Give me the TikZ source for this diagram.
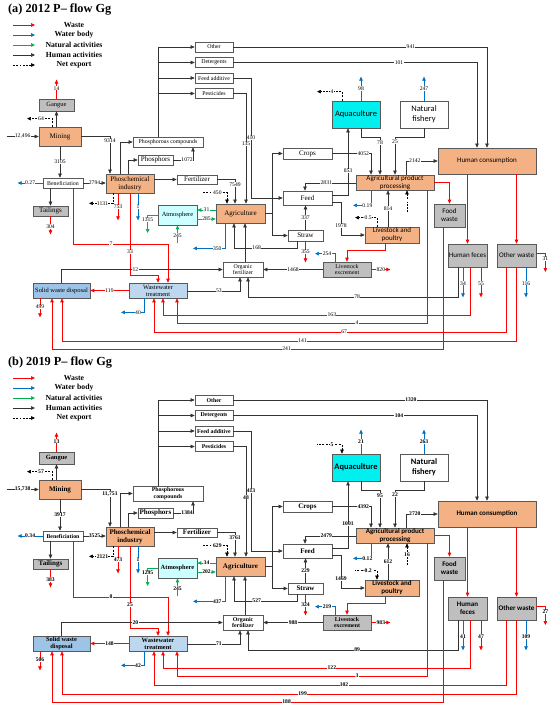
\documentclass[tikz,border=0pt]{standalone}
\usepackage{fontspec}
\setmainfont{Liberation Serif}
\newfontfamily\calfont{Carlito}
\usetikzlibrary{arrows.meta}

\definecolor{boxorange}{HTML}{F4B183}
\definecolor{boxgray}{HTML}{BFBFBF}
\definecolor{boxcyan}{HTML}{00F0F0}
\definecolor{boxatmo}{HTML}{CCFFFF}
\definecolor{boxww}{HTML}{BDD7EE}
\definecolor{boxsolid}{HTML}{9DC3E6}
\definecolor{boxline}{HTML}{595959}
\definecolor{wastered}{HTML}{FF0000}
\definecolor{waterblue}{HTML}{0070C0}
\definecolor{natgreen}{HTML}{00B050}

\tikzset{
  >={Triangle[length=3.4pt,width=3pt]},
  box/.style={draw=boxline, line width=0.6pt, inner sep=0.3pt, align=center,
    font=\fontsize{5.5}{6}\selectfont\panelfont},
  obox/.style={box, fill=boxorange},
  gbox/.style={box, fill=boxgray},
  wbox/.style={box, fill=white},
  sz/.style 2 args={minimum width=#1*0.03cm, minimum height=#2*0.03cm},
  sf5/.style={font=\fontsize{5}{5.6}\selectfont\panelfont},
  sf6/.style={font=\fontsize{6}{6.6}\selectfont\panelfont},
  cf6/.style={font=\calfont\fontsize{6}{6.8}\selectfont\panelfont},
  cf7/.style={font=\calfont\fontsize{7.2}{8.2}\selectfont\panelfont},
  num/.style={font=\fontsize{4.8}{5}\selectfont\panelfont, fill=white, inner sep=0.3pt},
  legend/.style={font=\bfseries\fontsize{6.6}{7.4}\selectfont},
  hum/.style={->, line width=0.55pt, draw=black!80},
  wst/.style={->, line width=0.6pt, draw=wastered},
  wat/.style={->, line width=0.6pt, draw=waterblue},
  nat/.style={->, line width=0.6pt, draw=natgreen},
  netex/.style={line width=0.55pt, draw=black, dash pattern=on 1.6pt off 1.2pt},
}

\newcommand{\valsA}{%
\def\panelfont{}%
\def\tTitle{(a) 2012 P-- flow Gg}%
\def\tPhc{Phosphorous compounds}\def\yPhc{142}\def\hPhc{10}%
\def\tSolid{Solid waste disposal}%
\def\tFeces{Human feces}%
\tikzset{aquaway/.style={->}, liveway/.style={->}}%
\def\vGan{14}\def\vMinEx{64}\def\vMinIn{12,496}\def\vMinPhos{9314}\def\vMinBen{3105}%
\def\vBenW{0.27}\def\vBenPhos{2794}\def\vTail{304}\def\vBenWw{7}\def\vPhosWw{33}%
\def\vPhosEx{1131}\def\vPhosR{753}\def\vPhosB{1}\def\vPhor{1072}%
\def\vOthHc{941}\def\vDetHc{101}\def\vAddFeed{410}\def\vPestAg{135}%
\def\vFert{7549}\def\vAgEx{450}\def\vAgAtm{31}\def\vAtmAg{285}\def\vAtmG{1315}\def\vAtmIn{245}%
\def\vAgB{350}\def\vStrAg{168}\def\vStrFeed{337}\def\vStrR{355}%
\def\vCrops{4052}\def\vFeedAq{853}\def\vProcFeed{2831}\def\vFeedLive{1978}%
\def\vAqProc{78}\def\vFishProc{25}\def\vProcHc{2142}\def\vAqB{98}\def\vAqEx{4}\def\vFishB{247}%
\def\vProcB{0.19}\def\vLiveProc{814}\def\vProcEx{}\def\vLiveEx{-0.5}%
\def\vExcOrg{1468}\def\vExcB{254}\def\vExcR{820}%
\def\vOwR{31}\def\vFecB{34}\def\vFecR{55}\def\vOwB{116}%
\def\vFecOrg{78}\def\vFecWw{163}\def\vProcWw{4}\def\vOwWw{67}\def\vOwSol{141}\def\vFoodSol{241}%
\def\vWwSol{119}\def\vWwOrg{53}\def\vSolOrg{12}\def\vSolR{499}\def\vWwB{40}%
}

\newcommand{\valsB}{%
\def\panelfont{\bfseries}%
\def\tTitle{(b) 2019 P-- flow Gg}%
\def\tPhc{Phosphorous\\compounds}\def\yPhc{140.5}\def\hPhc{15}%
\def\tSolid{Solid waste\\disposal}%
\def\tFeces{Human\\feces}%
\tikzset{aquaway/.style={<-}, liveway/.style={<-}}%
\def\vGan{13}\def\vMinEx{57}\def\vMinIn{15,738}\def\vMinPhos{11,751}\def\vMinBen{3917}%
\def\vBenW{0.34}\def\vBenPhos{3525}\def\vTail{383}\def\vBenWw{8}\def\vPhosWw{25}%
\def\vPhosEx{2121}\def\vPhosR{473}\def\vPhosB{1}\def\vPhor{1384}%
\def\vOthHc{1320}\def\vDetHc{104}\def\vAddFeed{413}\def\vPestAg{48}%
\def\vFert{3761}\def\vAgEx{629}\def\vAgAtm{34}\def\vAtmAg{202}\def\vAtmG{1295}\def\vAtmIn{245}%
\def\vAgB{437}\def\vStrAg{527}\def\vStrFeed{229}\def\vStrR{324}%
\def\vCrops{4392}\def\vFeedAq{1001}\def\vProcFeed{2479}\def\vFeedLive{1469}%
\def\vAqProc{95}\def\vFishProc{22}\def\vProcHc{2720}\def\vAqB{21}\def\vAqEx{5}\def\vFishB{263}%
\def\vProcB{0.12}\def\vLiveProc{612}\def\vProcEx{16}\def\vLiveEx{-0.2}%
\def\vExcOrg{988}\def\vExcB{219}\def\vExcR{983}%
\def\vOwR{27}\def\vFecB{41}\def\vFecR{47}\def\vOwB{109}%
\def\vFecOrg{89}\def\vFecWw{122}\def\vProcWw{3}\def\vOwWw{102}\def\vOwSol{199}\def\vFoodSol{188}%
\def\vWwSol{148}\def\vWwOrg{71}\def\vSolOrg{20}\def\vSolR{506}\def\vWwB{42}%
}

\newcommand{\flowpanel}{%
% title and legend
\node[anchor=west, font=\bfseries\fontsize{10.5}{12}\selectfont] (title) at (4,10) {\tTitle};
\draw[wst] (13,25) -- (35,25);
\draw[wat] (13,35) -- (35,35);
\draw[nat] (13,45) -- (35,45);
\draw[hum] (13,55) -- (35,55);
\draw[netex,->] (13,65) -- (35,65);
\node[legend] (lwaste) at (74,25) {Waste};
\node[legend] (lwater) at (74,35) {Water body};
\node[legend] (lnat) at (74,45) {Natural activities};
\node[legend] (lhum) at (74,55) {Human activities};
\node[legend] (lnet) at (74,65) {Net export};
% boxes
\node[gbox, sz={35}{12}] (gangue) at (56.5,105) {Gangue};
\node[obox, sf6, sz={42}{19}] (mining) at (60,136.5) {Mining};
\node[wbox, sf5, sz={40}{10}] (benef) at (63,183) {Beneficiation};
\node[gbox, sf6, sz={35}{10}] (tail) at (50.5,211) {Tailings};
\node[obox, sf6, sz={48}{19}] (phos) at (130,183.5) {Phoschemical\\industry};
\node[wbox, sf5, sz={70}{\hPhc}] (phc) at (168,\yPhc) {\tPhc};
\node[wbox, sf6, sz={35}{10}] (phor) at (155.5,160) {Phosphors};
\node[wbox, sf6, sz={40}{9}] (fert) at (197,179.5) {Fertilizer};
\node[wbox, sf5, sz={38}{10}] (other) at (214,47) {Other};
\node[wbox, sf5, sz={38}{10}] (deter) at (214,62.5) {Detergents};
\node[wbox, sf5, sz={38}{10}] (feedadd) at (214,78) {Feed additive};
\node[wbox, sf5, sz={38}{10}] (pest) at (214,93.5) {Pesticides};
\node[box, fill=boxatmo, sz={39}{20}] (atmo) at (177.5,215) {Atmosphere};
\node[obox, sf6, sz={49}{19}] (agri) at (240.5,213.5) {Agriculture};
\node[wbox, sf5, sz={40}{15}] (orgf) at (243,269.5) {Organic\\fertilizer};
\node[wbox, sf6, sz={49}{11}] (crops) at (307.5,153.5) {Crops};
\node[wbox, sf6, sz={49}{14}] (feed) at (307.5,198) {Feed};
\node[wbox, sf6, sz={35}{11}] (straw) at (305.5,235.5) {Straw};
\node[gbox, sf5, sz={48}{15}] (exc) at (347,269.5) {Livestock\\excrement};
\node[box, fill=boxcyan, cf7, sz={48}{27}] (aqua) at (356,114.5) {Aquaculture};
\node[wbox, cf7, sz={48}{27}] (fish) at (424,114.5) {Natural\\fishery};
\node[obox, cf6, sz={78}{15}] (proc) at (395,182.5) {Agricultural product\\processing};
\node[obox, cf6, sz={54}{16}] (live) at (392,235) {Livestock and\\poultry};
\node[obox, cf6, sz={98}{26}] (hc) at (487,161) {Human consumption};
\node[gbox, cf6, sz={31}{23}] (food) at (449.5,215.5) {Food\\waste};
\node[gbox, cf6, sz={39}{23}] (feces) at (467.5,255.5) {\tFeces};
\node[gbox, cf6, sz={39}{23}] (owaste) at (516.5,255.5) {Other waste};
\node[box, fill=boxww, sz={58}{15}] (ww) at (158,290.5) {Wastewater\\treatment};
\node[box, fill=boxsolid, sz={57}{15}] (solid) at (61.5,290.5) {\tSolid};
% mining
\draw[hum] (gangue.south |- mining.north) -- (gangue.south);
\draw[wst] (gangue.north) -- node[num,pos=0.55]{\vGan} ++(0,-19);
\draw[netex,->] (52,0 |- mining.north) |- node[num,pos=0.72]{\vMinEx} ++(-25,-8);
\draw[hum] (mining.west) ++(-32,0) -- node[num]{\vMinIn} (mining.west);
\draw[hum] (mining.east) -| node[num,pos=0.56]{\vMinPhos} (110,0 |- phos.north);
\draw[hum] (mining.south) -- node[num]{\vMinBen} (mining.south |- benef.north);
% beneficiation and phoschemical industry
\draw[hum] (tail.north |- benef.south) -- (tail.north);
\draw[wst] (tail.south) -- node[num,pos=0.55]{\vTail} ++(0,18);
\draw[wat] (benef.west) -- node[num]{\vBenW} ++(-25,0);
\draw[hum] (benef.east) -- node[num]{\vBenPhos} (benef.east -| phos.west);
\draw[wst] (73,0 |- benef.south) -- (73,244) -| node[num,pos=0.2]{\vBenWw} (168,0 |- ww.north);
\draw[wst] (130,0 |- phos.south) -- node[num,pos=0.72]{\vPhosWw} (130,275) -| (158,0 |- ww.north);
\draw[netex,->] (113,0 |- phos.south) |- node[num,pos=0.72]{\vPhosEx} ++(-24,10);
\draw[wst] (118,0 |- phos.south) -- node[num]{\vPhosR} ++(0,27);
\draw[wat] (138,0 |- phos.south) -- node[num]{\vPhosB} ++(0,27);
\draw[hum] (120,0 |- phos.north) |- (phc.west);
\draw[hum] (128,0 |- phos.north) |- (phor.west);
\draw[hum] (phos.east |- fert.west) -- (fert.west);
\draw[hum] (phor.east) -| node[num,pos=0.35]{\vPhor} (193,0 |- phc.south);
% phosphorous compounds
\draw[hum] (158,0 |- phc.north) |- (other.west);
\draw[hum] (158,0 |- deter.west) -- (deter.west);
\draw[hum] (158,0 |- feedadd.west) -- (feedadd.west);
\draw[hum] (158,0 |- pest.west) -- (pest.west);
\draw[hum] (other.east) -| node[num,pos=0.35]{\vOthHc} (487,0 |- hc.north);
\draw[hum] (deter.east) -| node[num,pos=0.34]{\vDetHc} (477,0 |- hc.north);
\draw[hum] (feedadd.east) -| node[num,pos=0.75]{\vAddFeed} (251,0 |- feed.west) -- (feed.west);
\draw[hum] (pest.east) -| node[num,pos=0.73]{\vPestAg} (246,0 |- agri.north);
% agriculture
\draw[hum] (fert.east) -| node[num,pos=0.6]{\vFert} (235,0 |- agri.north);
\draw[netex,->] (227,0 |- agri.north) ++(-24,-11) -| node[num,pos=0.3]{\vAgEx} (227,0 |- agri.north);
\draw[nat] (agri.west |- 0,210) -- node[num]{\vAgAtm} (atmo.east |- 0,210);
\draw[nat] (atmo.east |- 0,219) -- node[num]{\vAtmAg} (agri.west |- 0,219);
\draw[nat] (atmo.west) -| node[num,pos=0.64]{\vAtmG} ++(-10,18);
\draw[nat] (atmo.south) ++(0,18) -- node[num,pos=0.45]{\vAtmIn} (atmo.south);
\draw[wat] (225,0 |- agri.south) |- node[num,pos=0.62]{\vAgB} ++(-32,25);
\draw[hum] (297,0 |- straw.south) -- (297,248) -| node[num,pos=0.32]{\vStrAg} (234,0 |- agri.south);
\draw[hum] (245,0 |- orgf.north) -- (245,0 |- agri.south);
\draw[hum] (agri.east) -| (272,0 |- crops.west) -- (crops.west);
\draw[hum] (agri.east) -| (272,0 |- straw.west) -- (straw.west);
\draw[hum] (straw.north) -- node[num]{\vStrFeed} (straw.north |- feed.south);
\draw[wst] (straw.south) -- node[num]{\vStrR} ++(0,21);
% crops and feed
\draw[hum] (crops.east) -| node[num,pos=0.4]{\vCrops} (371,0 |- proc.north);
\draw[hum] (feed.east |- 0,195) -| node[num,pos=0.68]{\vFeedAq} (348,0 |- aqua.south);
\draw[hum] (proc.west |- 0,183) -| node[num,pos=0.29]{\vProcFeed} (305,0 |- feed.north);
\draw[hum] (feed.east |- 0,202) -| node[num,pos=0.86]{\vFeedLive} (341,0 |- live.west) -- (live.west);
% aquaculture and fishery
\draw[hum] (361,0 |- aqua.south) -- (361,137) -| node[num,pos=0.57]{\vAqProc} (380,0 |- proc.north);
\draw[hum] (fish.south) -- (fish.south |- 0,137) -| node[num,pos=0.56]{\vFishProc} (395,0 |- proc.north);
\draw[hum] (406,0 |- proc.north) |- node[num,pos=0.64]{\vProcHc} (hc.west);
\draw[wat] (361,0 |- aqua.north) -- node[num]{\vAqB} ++(0,-24);
\draw[netex,aquaway] (342,0 |- aqua.north) |- node[num,pos=0.7]{\vAqEx} ++(-25,-9);
\draw[wat] (fish.north) -- node[num]{\vFishB} ++(0,-24);
% processing and livestock
\draw[wat] (371,0 |- proc.south) |- node[num,pos=0.6]{\vProcB} ++(-18,15);
\draw[hum] (388,0 |- live.north) -- node[num]{\vLiveProc} (388,0 |- proc.south);
\draw[netex,->] (407,0 |- proc.south) ++(0,22) -- node[num]{\vProcEx} (407,0 |- proc.south);
\draw[netex,liveway] (377,0 |- live.north) |- node[num,pos=0.72]{\vLiveEx} ++(-22,-9);
\draw[wst] (385,0 |- live.south) -- (385,250) -| (347,0 |- exc.north);
\draw[hum] (exc.west) -- node[num]{\vExcOrg} (orgf.east);
\draw[wat] (335,0 |- exc.north) |- node[num,pos=0.7]{\vExcB} ++(-20,-8);
\draw[wst] (exc.east) -- node[num]{\vExcR} ++(19,0);
% consumption and wastes
\draw[wst] (proc.east) -| (food.north);
\draw[wst] (feces.north |- hc.south) -- (feces.north);
\draw[wst] (owaste.north |- hc.south) -- (owaste.north);
\draw[wst] (owaste.east |- 0,253) -| node[num,pos=0.66]{\vOwR} ++(9,19);
\draw[wat] (463,0 |- feces.south) -- node[num,pos=0.53]{\vFecB} ++(0,30);
\draw[wst] (481,0 |- feces.south) -- node[num,pos=0.53]{\vFecR} ++(0,30);
\draw[wat] (526,0 |- owaste.south) -- node[num,pos=0.53]{\vOwB} ++(0,30);
\draw[hum] (458,0 |- feces.south) -- (458,297) -| node[num,pos=0.24]{\vFecOrg} (248,0 |- orgf.south);
\draw[wst] (470,0 |- feces.south) -- (470,315) -| node[num,pos=0.225]{\vFecWw} (163,0 |- ww.south);
\draw[wst] (427,0 |- proc.south) -- (427,323) -| node[num,pos=0.14]{\vProcWw} (177,0 |- ww.south);
\draw[wst] (506,0 |- owaste.south) -- (506,332) -| node[num,pos=0.23]{\vOwWw} (154,0 |- ww.south);
\draw[wst] (516,0 |- owaste.south) -- (516,341) -| node[num,pos=0.235]{\vOwSol} (62,0 |- solid.south);
\draw[wst] (443,0 |- food.south) -- (443,349) -| node[num,pos=0.2]{\vFoodSol} (52,0 |- solid.south);
% treatment
\draw[wst] (ww.west) -- node[num]{\vWwSol} (solid.east);
\draw[hum] (ww.east |- 0,291) -| node[num,pos=0.3]{\vWwOrg} (240,0 |- orgf.south);
\draw[hum] (61,0 |- solid.north) |- node[num,pos=0.73]{\vSolOrg} (orgf.west);
\draw[wst] (40,0 |- solid.south) -- node[num,pos=0.45]{\vSolR} ++(0,19);
\draw[wat] (144,0 |- ww.south) |- node[num,pos=0.63]{\vWwB} ++(-23,14);
}

\begin{document}
\begin{tikzpicture}[x=0.03cm, y=-0.03cm]
\fill[white] (0,0) rectangle (550,710);
\path[use as bounding box] (0,0) rectangle (550,710);

\begin{scope}[name prefix=a-]
\valsA
\flowpanel
\end{scope}

\begin{scope}[shift={(0,353)}, name prefix=b-]
\valsB
\flowpanel
\end{scope}
\end{tikzpicture}
\end{document}
